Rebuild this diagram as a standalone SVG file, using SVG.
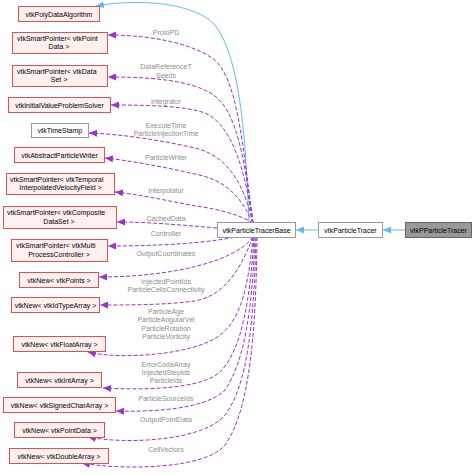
<svg xmlns="http://www.w3.org/2000/svg" width="474" height="475" viewBox="0 0 474 475">
<defs>
<style>
.n rect{fill:#fff0f0;stroke:#e05050;stroke-width:1}
.n.w rect{fill:#ffffff;stroke:#999999}
.n.g rect{fill:#999999;stroke:#666666}
text{font-family:"Liberation Sans",Arial,sans-serif;font-size:7px;fill:#000}
.c{text-anchor:middle}
.l{fill:#8c8c8c;text-anchor:middle}
.u{fill:none;stroke:#9a32cd;stroke-width:1;stroke-dasharray:4,2}
.i{fill:none;stroke:#63b8ff;stroke-width:1}
</style>
<marker id="pa" markerUnits="userSpaceOnUse" markerWidth="9" markerHeight="7" refX="8" refY="3.5" orient="auto"><path d="M0,0 L8,3.5 L0,7 z" fill="#9a32cd"/></marker>
<marker id="ba" markerUnits="userSpaceOnUse" markerWidth="9" markerHeight="7" refX="8" refY="3.5" orient="auto"><path d="M0,0 L8,3.5 L0,7 z" fill="#63b8ff"/></marker>
</defs>
<rect width="474" height="475" fill="#fff"/>
<g id="connectors">
<path class="i" marker-end="url(#ba)" d="M249,223 C246,150 242,60 215,25 C195,3 140,-2 96,6"/>
<path class="i" marker-end="url(#ba)" d="M318,230 L296,230"/>
<path class="i" marker-end="url(#ba)" d="M405,230 L383,230"/>
<path class="u" marker-end="url(#pa)" d="M253,223 C243,150 238,75 212,58 C190,43 150,35 108,35"/>
<path class="u" marker-end="url(#pa)" d="M253,223 C245,165 238,110 212,94 C190,80 150,77 108,77"/>
<path class="u" marker-end="url(#pa)" d="M253,223 C245,170 232,125 205,113 C185,106 150,105 111,105"/>
<path class="u" marker-end="url(#pa)" d="M253,223 C243,180 225,155 195,148 C160,140 120,134 89,133"/>
<path class="u" marker-end="url(#pa)" d="M253,223 C240,195 225,180 195,174 C160,166 125,160 105,158"/>
<path class="u" marker-end="url(#pa)" d="M253,223 C235,212 210,208 190,205 C160,199 135,194 115,192"/>
<path class="u" marker-end="url(#pa)" d="M217,228 C180,225 150,222 117,222"/>
<path class="u" marker-end="url(#pa)" d="M240,236 C210,243 160,246 108,246"/>
<path class="u" marker-end="url(#pa)" d="M253,237 C235,262 170,277 99,277"/>
<path class="u" marker-end="url(#pa)" d="M253,237 C240,270 225,295 195,301 C165,305 130,305 100,305"/>
<path class="u" marker-end="url(#pa)" d="M253,237 C248,290 240,320 220,335 C195,355 120,360 88,352"/>
<path class="u" marker-end="url(#pa)" d="M254,237 C250,300 242,350 220,372 C200,390 140,390 103,388"/>
<path class="u" marker-end="url(#pa)" d="M255,237 C252,310 245,360 225,390 C205,410 150,412 116,411"/>
<path class="u" marker-end="url(#pa)" d="M256,237 C254,320 248,385 225,415 C205,440 130,445 88,437"/>
<path class="u" marker-end="url(#pa)" d="M257,237 C256,330 250,410 225,445 C205,470 120,470 82,463"/>
<text class="l" x="166" y="34.5">ProtoPD</text>
<text class="l" x="166" y="68.5">DataReferenceT</text>
<text class="l" x="166" y="77.5">Seeds</text>
<text class="l" x="166" y="103.5">Integrator</text>
<text class="l" x="166" y="127.5">ExecuteTime</text>
<text class="l" x="166" y="135.5">ParticleInjectionTime</text>
<text class="l" x="166" y="159.5">ParticleWriter</text>
<text class="l" x="166" y="192.5">Interpolator</text>
<text class="l" x="166" y="220.5">CachedData</text>
<text class="l" x="166" y="235.5">Controller</text>
<text class="l" x="166" y="255.5">OutputCoordinates</text>
<text class="l" x="166" y="283.5">InjectedPointIds</text>
<text class="l" x="166" y="291.5">ParticleCellsConnectivity</text>
<text class="l" x="166" y="313.5">ParticleAge</text>
<text class="l" x="166" y="322">ParticleAngularVel</text>
<text class="l" x="166" y="330.5">ParticleRotation</text>
<text class="l" x="166" y="338.5">ParticleVorticity</text>
<text class="l" x="166" y="366.5">ErrorCodeArray</text>
<text class="l" x="166" y="374.5">InjectedStepIds</text>
<text class="l" x="166" y="382.5">ParticleIds</text>
<text class="l" x="166" y="400.5">ParticleSourceIds</text>
<text class="l" x="166" y="421.5">OutputPointData</text>
<text class="l" x="166" y="451.5">CellVectors</text>
</g>
<g id="n1" class="n"><rect x="18.5" y="6.5" width="81" height="15"/><text class="c" x="59" y="16.5">vtkPolyDataAlgorithm</text></g>
<g id="n2" class="n"><rect x="12.5" y="32.5" width="95" height="21"/><text x="17" y="40.5">vtkSmartPointer&lt; vtkPoint</text><text class="c" x="59" y="49">Data &gt;</text></g>
<g id="n3" class="n"><rect x="12.5" y="65.5" width="95" height="21"/><text x="17" y="73.5">vtkSmartPointer&lt; vtkData</text><text class="c" x="59" y="82">Set &gt;</text></g>
<g id="n4" class="n"><rect x="8.5" y="97.5" width="102" height="15"/><text class="c" x="59.5" y="107.5">vtkInitialValueProblemSolver</text></g>
<g id="n5" class="n w"><rect x="31.5" y="123.5" width="57" height="14"/><text class="c" x="60" y="133">vtkTimeStamp</text></g>
<g id="n6" class="n"><rect x="14.5" y="147.5" width="90" height="15"/><text class="c" x="59.5" y="157.5">vtkAbstractParticleWriter</text></g>
<g id="n7" class="n"><rect x="6.5" y="173.5" width="108" height="21"/><text x="10" y="181.5">vtkSmartPointer&lt; vtkTemporal</text><text class="c" x="60.5" y="190">InterpolatedVelocityField &gt;</text></g>
<g id="n8" class="n"><rect x="3.5" y="206.5" width="113" height="22"/><text x="7" y="215">vtkSmartPointer&lt; vtkComposite</text><text class="c" x="59" y="224">DataSet &gt;</text></g>
<g id="n9" class="n"><rect x="11.5" y="239.5" width="96" height="22"/><text x="16" y="248">vtkSmartPointer&lt; vtkMulti</text><text class="c" x="59" y="257">ProcessController &gt;</text></g>
<g id="n10" class="n"><rect x="19.5" y="272.5" width="79" height="15"/><text class="c" x="59" y="282.5">vtkNew&lt; vtkPoints &gt;</text></g>
<g id="n11" class="n"><rect x="11.5" y="297.5" width="88" height="15"/><text class="c" x="55.5" y="307.5">vtkNew&lt; vtkIdTypeArray &gt;</text></g>
<g id="n12" class="n"><rect x="13.5" y="336.5" width="92" height="15"/><text class="c" x="59.5" y="346.5">vtkNew&lt; vtkFloatArray &gt;</text></g>
<g id="n13" class="n"><rect x="17.5" y="372.5" width="84" height="15"/><text class="c" x="59.5" y="382.5">vtkNew&lt; vtkIntArray &gt;</text></g>
<g id="n14" class="n"><rect x="3.5" y="397.5" width="112" height="15"/><text class="c" x="59.5" y="407.5">vtkNew&lt; vtkSignedCharArray &gt;</text></g>
<g id="n15" class="n"><rect x="14.5" y="422.5" width="90" height="15"/><text class="c" x="59.5" y="432.5">vtkNew&lt; vtkPointData &gt;</text></g>
<g id="n16" class="n"><rect x="9.5" y="448.5" width="99" height="15"/><text class="c" x="59" y="458.5">vtkNew&lt; vtkDoubleArray &gt;</text></g>
<g id="base" class="n w"><rect x="217.5" y="222.5" width="78" height="15"/><text class="c" x="256.5" y="232.5">vtkParticleTracerBase</text></g>
<g id="tracer" class="n w"><rect x="318.5" y="222.5" width="64" height="15"/><text class="c" x="350.5" y="232.5">vtkParticleTracer</text></g>
<g id="ptracer" class="n g"><rect x="405.5" y="222.5" width="66" height="15"/><text class="c" x="438.5" y="232.5">vtkPParticleTracer</text></g>
</svg>
